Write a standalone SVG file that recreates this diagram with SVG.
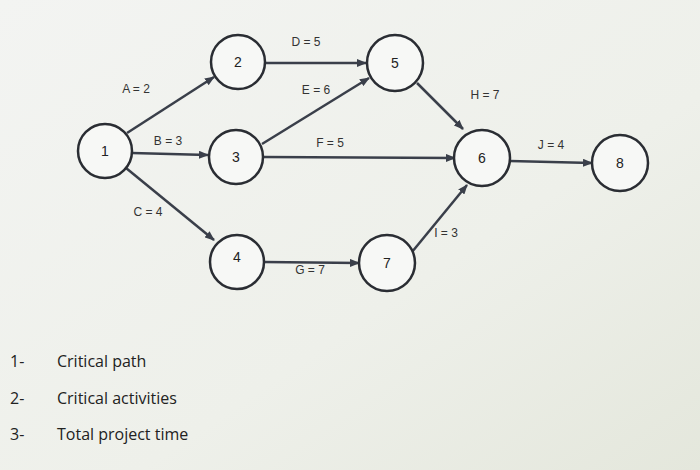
<svg xmlns="http://www.w3.org/2000/svg" width="700" height="470" viewBox="0 0 700 470">
<defs>
<marker id="ah" markerWidth="10" markerHeight="8" refX="9" refY="4" orient="auto" markerUnits="userSpaceOnUse"><path d="M0,0 L10,4 L0,8 z" fill="#3a3f4a"/></marker>
<linearGradient id="bg" x1="0" y1="0" x2="1" y2="1"><stop offset="0" stop-color="#f3f4f2"/><stop offset="0.6" stop-color="#eef0ea"/><stop offset="1" stop-color="#e4e7dc"/></linearGradient>
</defs>
<style>
.n circle{fill:#f7f8f6;stroke:#2a2d33;stroke-width:2.5}
.n text{font-family:"Liberation Sans",Arial,sans-serif;font-size:14px;fill:#222;text-anchor:middle}
.c line{stroke:#3a3f4a;stroke-width:2.5;marker-end:url(#ah)}
.l{font-family:"Liberation Sans",Arial,sans-serif;font-size:12px;fill:#333;text-anchor:middle}
.q{font-family:"Open Sans","Liberation Sans",sans-serif;font-size:16px;fill:#222}
</style>
<rect width="700" height="470" fill="url(#bg)"/>
<g class="c">
<line x1="127" y1="133" x2="214" y2="77"/>
<line x1="132" y1="153" x2="208" y2="155"/>
<line x1="126" y1="168" x2="214" y2="240"/>
<line x1="266" y1="63" x2="366" y2="63"/>
<line x1="262" y1="144" x2="369" y2="78"/>
<line x1="263" y1="157" x2="455" y2="158"/>
<line x1="417" y1="83" x2="463" y2="129"/>
<line x1="510" y1="161" x2="592" y2="163"/>
<line x1="264" y1="262" x2="359" y2="263"/>
<line x1="412" y1="252" x2="467" y2="185"/>
</g>
<g id="labels">
<text class="l" x="136" y="93">A = 2</text>
<text class="l" x="168" y="145">B = 3</text>
<text class="l" x="148" y="216">C = 4</text>
<text class="l" x="306" y="46">D = 5</text>
<text class="l" x="316" y="94">E = 6</text>
<text class="l" x="330" y="147">F = 5</text>
<text class="l" x="310" y="274">G = 7</text>
<text class="l" x="485" y="99">H = 7</text>
<text class="l" x="446" y="237">I = 3</text>
<text class="l" x="551" y="149">J = 4</text>
</g>
<g id="n1" class="n"><circle cx="105" cy="151" r="27"/><text x="105" y="156">1</text></g>
<g id="n2" class="n"><circle cx="238" cy="62" r="27"/><text x="238" y="67">2</text></g>
<g id="n3" class="n"><circle cx="236" cy="157" r="27"/><text x="236" y="162">3</text></g>
<g id="n4" class="n"><circle cx="237" cy="262" r="27"/><text x="237" y="262">4</text></g>
<g id="n5" class="n"><circle cx="395" cy="63" r="28"/><text x="395" y="68">5</text></g>
<g id="n6" class="n"><circle cx="482" cy="158" r="28"/><text x="482" y="163">6</text></g>
<g id="n7" class="n"><circle cx="387" cy="263" r="28"/><text x="387" y="268">7</text></g>
<g id="n8" class="n"><circle cx="620" cy="163" r="28"/><text x="620" y="168">8</text></g>
<text class="q" x="10" y="367">1-</text><text class="q" x="57" y="367">Critical path</text>
<text class="q" x="10" y="404">2-</text><text class="q" x="57" y="404">Critical activities</text>
<text class="q" x="10" y="440">3-</text><text class="q" x="57" y="440">Total project time</text>
</svg>
